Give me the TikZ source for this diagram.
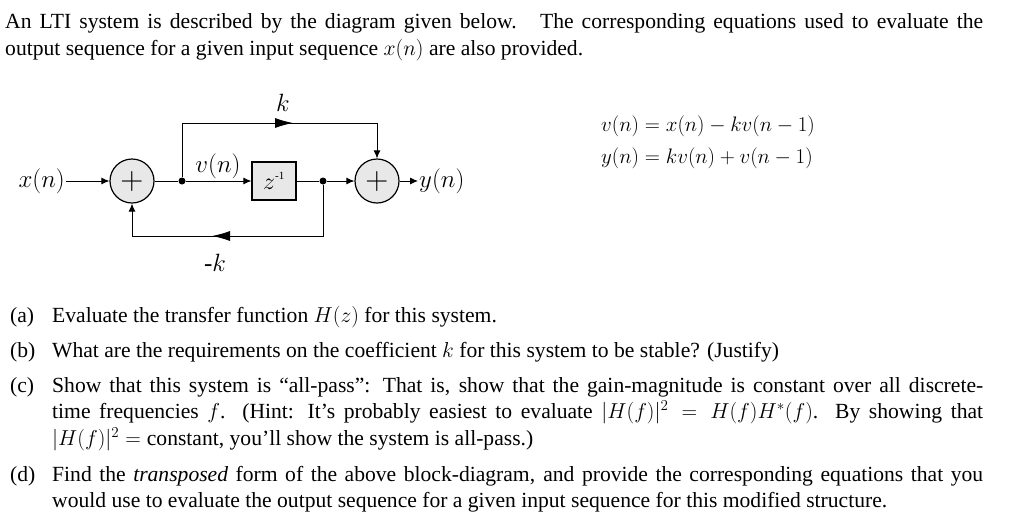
\RequirePackage{fix-cm}
\documentclass[tikz,border=0pt]{standalone}
\usepackage{fontspec}
\setmainfont{Liberation Serif}
\usetikzlibrary{arrows.meta}
\begin{document}
\begin{tikzpicture}[x=1pt,y=-1pt,
  txt/.style={anchor=base west,inner sep=0pt,font=\fontsize{21.6}{25}\selectfont},
  sumnode/.style={circle,draw,line width=1.2pt,fill=gray!18,minimum size=44pt,inner sep=0pt,font=\fontsize{32}{32}\selectfont},
  dly/.style={draw,line width=1.2pt,fill=gray!18,minimum width=44pt,minimum height=38pt,inner sep=0pt,font=\fontsize{24}{24}\selectfont},
  sig/.style={font=\fontsize{25}{29}\selectfont,inner sep=1pt},
  sm/.style={-{Latex[length=8pt,width=7pt]},line width=0.9pt},
  big/.style={-{Latex[length=18pt,width=10pt]},line width=0.9pt},
  dotn/.style={circle,fill,inner sep=0pt,minimum size=7pt}]
\useasboundingbox (0,0) rectangle (1024,528);
\node[txt] (l1) at (5,28) {\hbox to 978pt{An LTI system is described by the diagram given below. \ The corresponding equations used to evaluate the}};
\node[txt] (l2) at (5,55) {output sequence for a given input sequence $x(n)$ are also provided.};
% diagram
\node[sig,anchor=east] (x) at (66,181) {$x(n)$};
\node[sumnode] (s1) at (132,181) {$+$};
\node[dotn] (d1) at (182,181) {};
\node[dly] (z) at (274,181) {$z^{\raisebox{2pt}{\fontsize{11}{11}\selectfont -1}}$};
\node[dotn] (d2) at (323,181) {};
\node[sumnode] (s2) at (377,181) {$+$};
\node[sig,anchor=west] (y) at (418,181) {$y(n)$};
\node[sig] (v) at (218,166) {$v(n)$};
\node[sig] (k) at (283,103) {$k$};
\node[sig] (mk) at (215,263) {-$k$};
\coordinate (tl) at (182,123);
\coordinate (tr) at (377,123);
\coordinate (bl) at (132,236);
\coordinate (br) at (323,236);
\draw[sm] (x) -- (s1);
\draw[line width=0.9pt] (s1) -- (d1);
\draw[sm] (d1) -- (z);
\draw[line width=0.9pt] (z) -- (d2);
\draw[sm] (d2) -- (s2);
\draw[sm] (s2) -- (y);
\draw[line width=0.9pt] (d1) -- (tl) -- (tr);
\draw[big] (tl) -- (293,123);
\draw[sm] (tr) -- (s2);
\draw[line width=0.9pt] (d2) -- (br) -- (bl);
\draw[big] (br) -- (212,236);
\draw[sm] (bl) -- (s1);
\node[txt,font=\fontsize{21}{25}\selectfont] (e1) at (601,131) {$v(n)=x(n)-kv(n-1)$};
\node[txt,font=\fontsize{21}{25}\selectfont] (e2) at (601,163) {$y(n)=kv(n)+v(n-1)$};
% questions
\node[txt] (a) at (10,322) {(a)};
\node[txt] (at) at (52,322) {Evaluate the transfer function $H(z)$ for this system.};
\node[txt] (b) at (10,357) {(b)};
\node[txt] (bt) at (52,357) {What are the requirements on the coefficient $k$ for this system to be stable? (Justify)};
\node[txt] (c) at (10,392) {(c)};
\node[txt] (ct1) at (52,392) {\hbox to 931pt{Show that this system is ``all-pass'': That is, show that the gain-magnitude is constant over all discrete-}};
\node[txt] (ct2) at (52,418) {\hbox to 931pt{time frequencies $f$. (Hint: It's probably easiest to evaluate $|H(f)|^2=H(f)H^*(f)$. By showing that}};
\node[txt] (ct3) at (52,445) {$|H(f)|^2=\mathrm{constant}$, you'll show the system is all-pass.)};
\node[txt] (d) at (10,481) {(d)};
\node[txt] (dt1) at (52,481) {\hbox to 931pt{Find the \textit{transposed} form of the above block-diagram, and provide the corresponding equations that you}};
\node[txt] (dt2) at (52,507) {would use to evaluate the output sequence for a given input sequence for this modified structure.};
\end{tikzpicture}
\end{document}
